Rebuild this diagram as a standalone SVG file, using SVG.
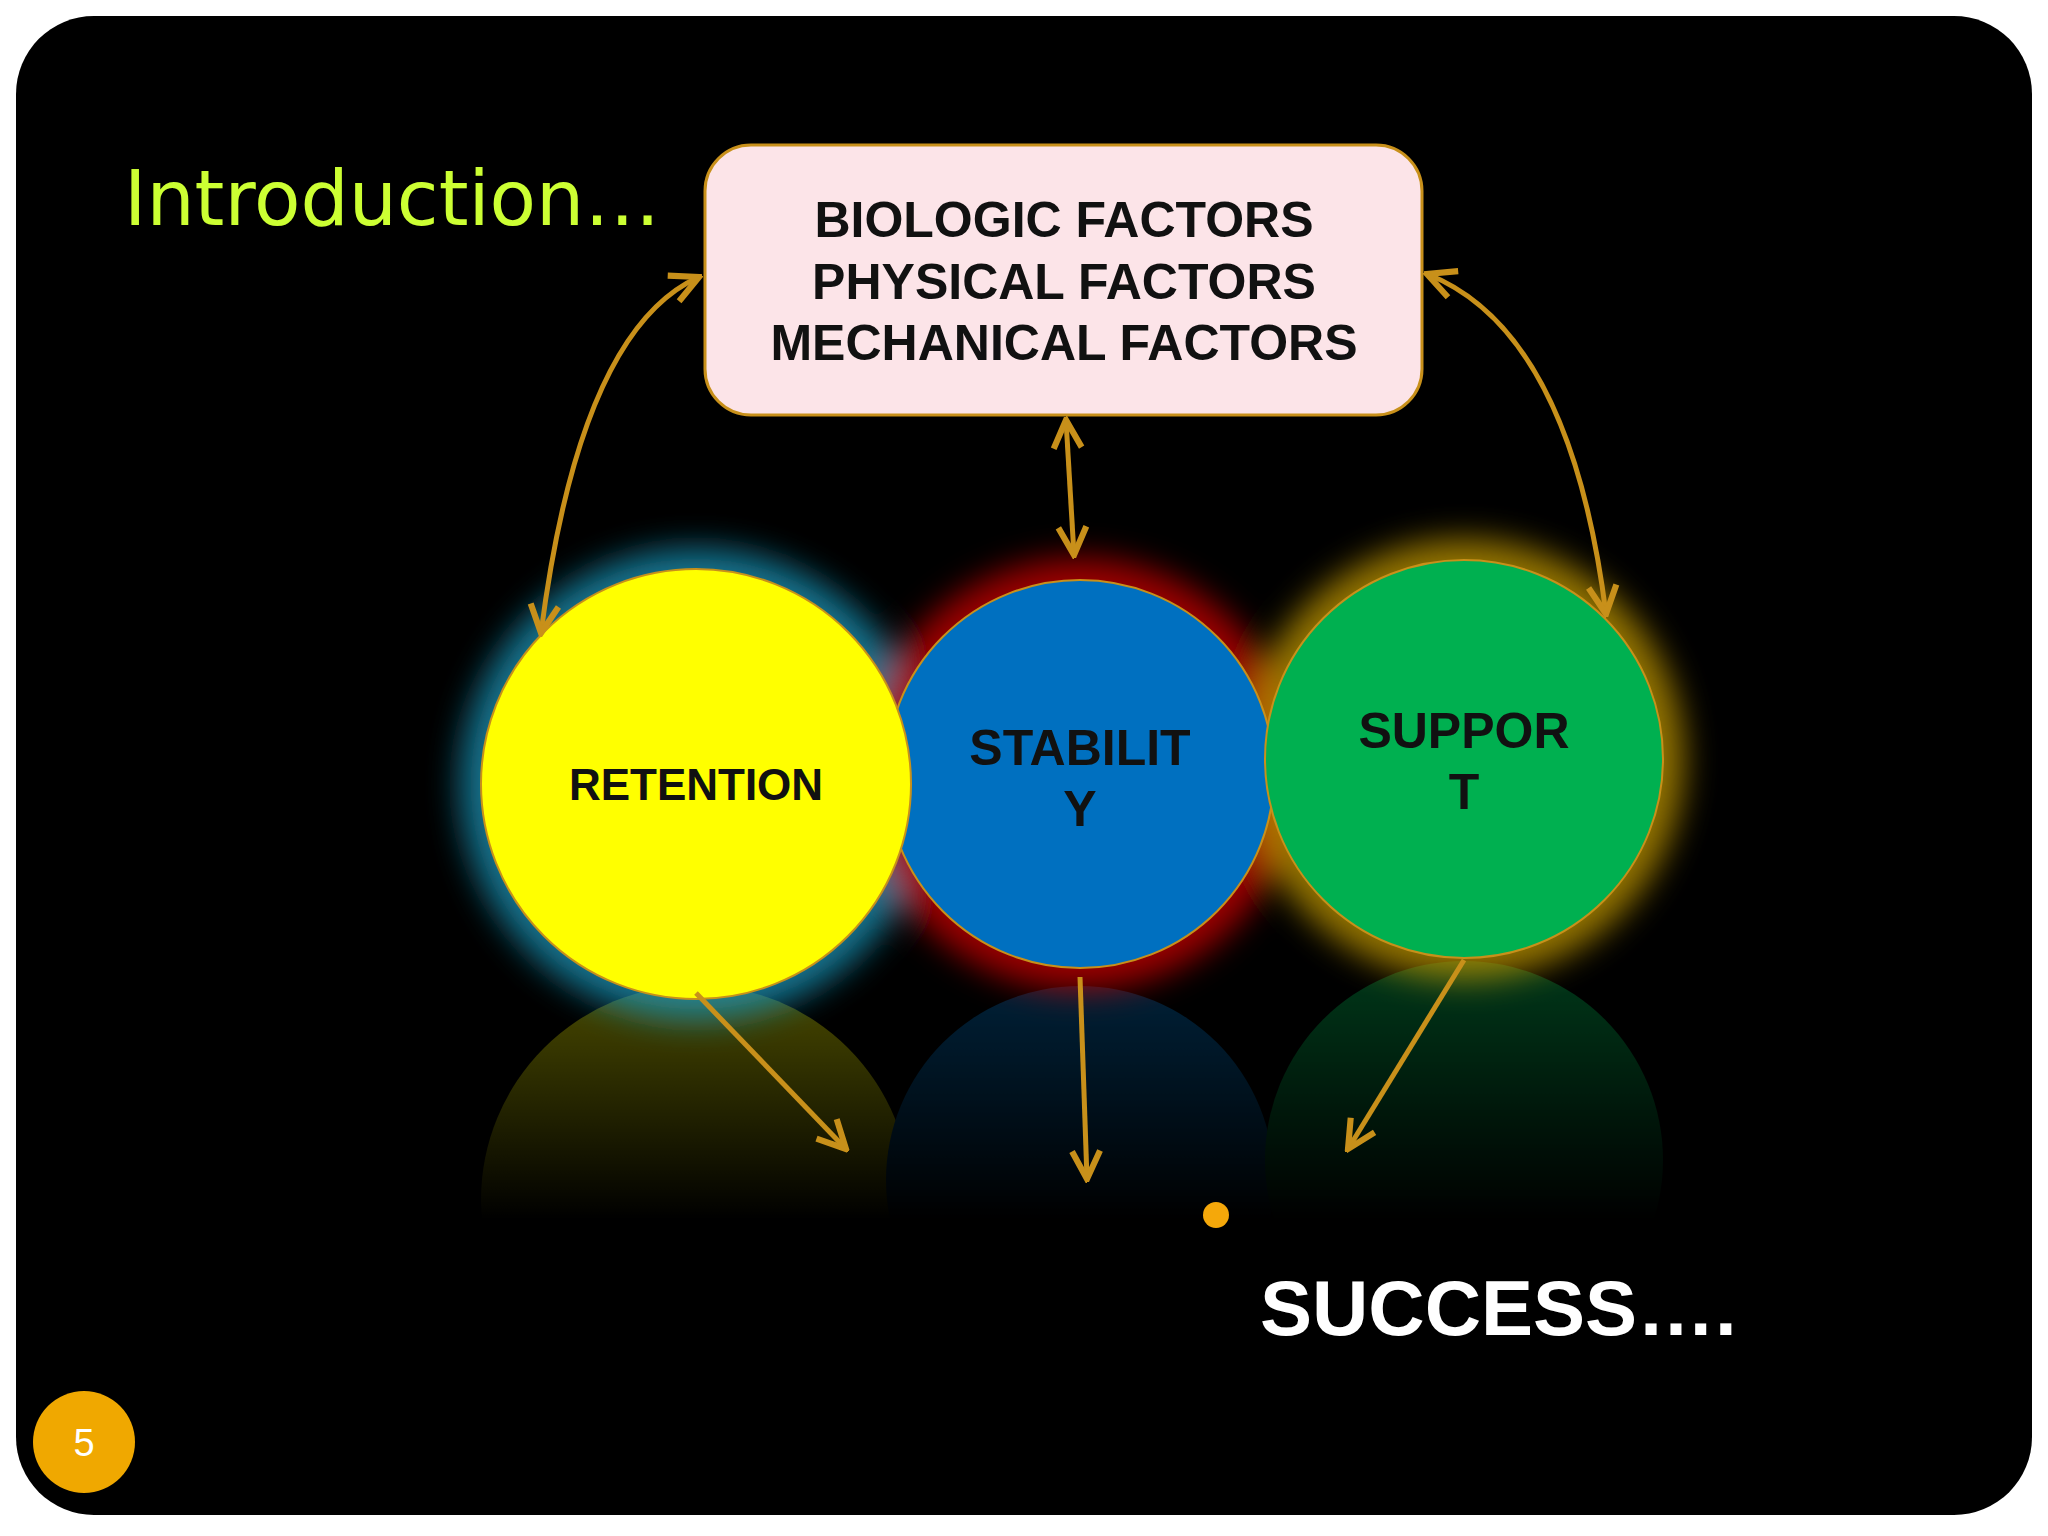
<svg xmlns="http://www.w3.org/2000/svg" width="2048" height="1536" viewBox="0 0 2048 1536">
<style>
.lbl{font-family:"Liberation Sans",Arial,sans-serif;font-weight:bold;fill:#111;text-anchor:middle}
.con{fill:none;stroke:#c8901a;stroke-width:5}
</style>
<defs>
<filter id="glow" x="-30%" y="-30%" width="160%" height="160%"><feGaussianBlur stdDeviation="16"/></filter>
<marker id="ah" viewBox="0 0 20 20" refX="18" refY="10" markerWidth="7" markerHeight="7" orient="auto-start-reverse" markerUnits="strokeWidth"><path d="M2,2 L18,10 L2,18" fill="none" stroke="#c8901a" stroke-width="3.5"/></marker>
<linearGradient id="fade" x1="0" y1="0" x2="0" y2="1"><stop offset="0" stop-color="#fff" stop-opacity="0.32"/><stop offset="1" stop-color="#fff" stop-opacity="0"/></linearGradient>
<mask id="rm"><rect x="0" y="960" width="2048" height="260" fill="url(#fade)"/></mask>
</defs>
<rect width="2048" height="1536" fill="#fff"/>
<rect x="16" y="16" width="2016" height="1499" rx="78" fill="#000"/>
<text x="124" y="225" font-family="'Comic Sans MS','DejaVu Sans',sans-serif" font-size="76" fill="#ccff33">Introduction…</text>
<g id="reflection" mask="url(#rm)">
<circle cx="696" cy="1200" r="215" fill="#ffff00"/>
<circle cx="1080" cy="1180" r="194" fill="#0070c0"/>
<circle cx="1464" cy="1160" r="199" fill="#00b050"/>
</g>
<g id="factors">
<rect x="705" y="145" width="717" height="270" rx="46" fill="#fce4e8" stroke="#c8901a" stroke-width="3"/>
<text class="lbl" x="1064" y="237" font-size="50">BIOLOGIC FACTORS</text>
<text class="lbl" x="1064" y="299" font-size="50">PHYSICAL FACTORS</text>
<text class="lbl" x="1064" y="360" font-size="50">MECHANICAL FACTORS</text>
</g>
<g id="glows" filter="url(#glow)">
<circle cx="696" cy="784" r="236" fill="#1a8fb0" opacity="0.8"/>
<circle cx="1080" cy="774" r="216" fill="#c00000" opacity="0.8"/>
<circle cx="1464" cy="759" r="220" fill="#b89000" opacity="0.8"/>
</g>
<g id="stability">
<circle cx="1080" cy="774" r="194" fill="#0070c0" stroke="#c8901a" stroke-width="2"/>
<text class="lbl" x="1080" y="765" font-size="50">STABILIT</text>
<text class="lbl" x="1080" y="826" font-size="50">Y</text>
</g>
<g id="retention">
<circle cx="696" cy="784" r="215" fill="#ffff00" stroke="#c8901a" stroke-width="2"/>
<text class="lbl" x="696" y="800" font-size="44">RETENTION</text>
</g>
<g id="support">
<circle cx="1464" cy="759" r="199" fill="#00b050" stroke="#c8901a" stroke-width="2"/>
<text class="lbl" x="1464" y="748" font-size="50">SUPPOR</text>
<text class="lbl" x="1464" y="809" font-size="50">T</text>
</g>
<g id="connectors">
<path class="con" d="M699,277 Q580,330 541,633" marker-start="url(#ah)" marker-end="url(#ah)"/>
<path class="con" d="M1427,274 Q1570,330 1606,614" marker-start="url(#ah)" marker-end="url(#ah)"/>
<path class="con" d="M1066,420 L1074,555" marker-start="url(#ah)" marker-end="url(#ah)"/>
<path class="con" d="M696,993 L846,1149" marker-end="url(#ah)"/>
<path class="con" d="M1080,977 L1087,1179" marker-end="url(#ah)"/>
<path class="con" d="M1464,960 L1348,1149" marker-end="url(#ah)"/>
</g>
<circle cx="1216" cy="1215" r="13" fill="#f5a80a"/>
<text x="1260" y="1335" font-family="'Liberation Sans',Arial,sans-serif" font-weight="bold" font-size="78" fill="#fff">SUCCESS….</text>
<circle cx="84" cy="1442" r="51" fill="#f0a800"/>
<text x="84" y="1456" font-family="'Liberation Sans',Arial,sans-serif" font-size="38" fill="#fff" text-anchor="middle">5</text>
</svg>
